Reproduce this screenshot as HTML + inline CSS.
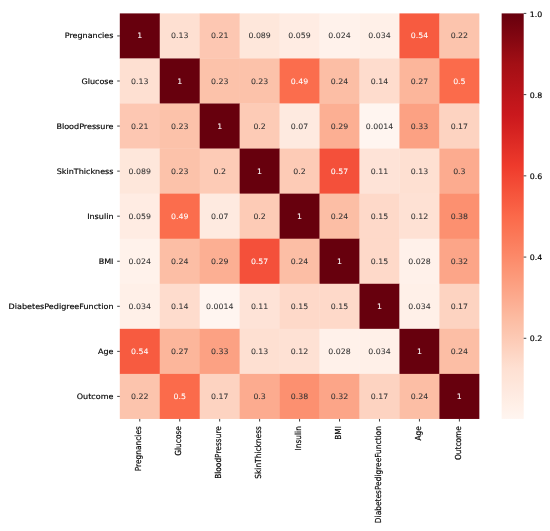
<!DOCTYPE html>
<html lang="en"><head><meta charset="utf-8"><title>Correlation heatmap</title>
<style>html,body{margin:0;padding:0;background:#fff;overflow:hidden}svg{display:block}text{font-family:"DejaVu Sans","Liberation Sans",sans-serif}</style></head><body>
<svg width="550" height="531" viewBox="0 0 550 531">
<defs><linearGradient id="reds" x1="0" y1="1" x2="0" y2="0">
<stop offset="0.00000" stop-color="#fff5f0"/>
<stop offset="0.03125" stop-color="#fff0e8"/>
<stop offset="0.06250" stop-color="#feeae1"/>
<stop offset="0.09375" stop-color="#fee5d9"/>
<stop offset="0.12500" stop-color="#fee0d2"/>
<stop offset="0.15625" stop-color="#fdd7c6"/>
<stop offset="0.18750" stop-color="#fdcdb9"/>
<stop offset="0.21875" stop-color="#fcc4ad"/>
<stop offset="0.25000" stop-color="#fcbba1"/>
<stop offset="0.28125" stop-color="#fcb095"/>
<stop offset="0.31250" stop-color="#fca689"/>
<stop offset="0.34375" stop-color="#fc9c7d"/>
<stop offset="0.37500" stop-color="#fc9272"/>
<stop offset="0.40625" stop-color="#fc8767"/>
<stop offset="0.43750" stop-color="#fb7d5d"/>
<stop offset="0.46875" stop-color="#fb7353"/>
<stop offset="0.50000" stop-color="#fb694a"/>
<stop offset="0.53125" stop-color="#f85d42"/>
<stop offset="0.56250" stop-color="#f5523a"/>
<stop offset="0.59375" stop-color="#f24633"/>
<stop offset="0.62500" stop-color="#ee3a2c"/>
<stop offset="0.65625" stop-color="#e53228"/>
<stop offset="0.68750" stop-color="#dc2924"/>
<stop offset="0.71875" stop-color="#d32020"/>
<stop offset="0.75000" stop-color="#ca181d"/>
<stop offset="0.78125" stop-color="#c1161b"/>
<stop offset="0.81250" stop-color="#b71319"/>
<stop offset="0.84375" stop-color="#ad1117"/>
<stop offset="0.87500" stop-color="#a30f15"/>
<stop offset="0.90625" stop-color="#940b13"/>
<stop offset="0.93750" stop-color="#840711"/>
<stop offset="0.96875" stop-color="#75030f"/>
<stop offset="1.00000" stop-color="#67000d"/>
</linearGradient><filter id="b" x="-5%" y="-5%" width="110%" height="110%"><feGaussianBlur stdDeviation="0.35"/></filter></defs>
<rect width="550" height="531" fill="#fff"/>
<g shape-rendering="geometricPrecision">
<rect x="119.80" y="13.40" width="40.25" height="45.36" fill="#67000d"/>
<rect x="159.75" y="13.40" width="40.25" height="45.36" fill="#fee0d2"/>
<rect x="199.70" y="13.40" width="40.25" height="45.36" fill="#fdc7b2"/>
<rect x="239.65" y="13.40" width="40.25" height="45.36" fill="#fee7db"/>
<rect x="279.60" y="13.40" width="40.25" height="45.36" fill="#ffece3"/>
<rect x="319.55" y="13.40" width="40.25" height="45.36" fill="#fff2eb"/>
<rect x="359.50" y="13.40" width="40.25" height="45.36" fill="#fff0e8"/>
<rect x="399.45" y="13.40" width="40.25" height="45.36" fill="#f75b40"/>
<rect x="439.40" y="13.40" width="39.95" height="45.36" fill="#fcc4ad"/>
<rect x="119.80" y="58.46" width="40.25" height="45.36" fill="#fee0d2"/>
<rect x="159.75" y="58.46" width="40.25" height="45.36" fill="#67000d"/>
<rect x="199.70" y="58.46" width="40.25" height="45.36" fill="#fcc2aa"/>
<rect x="239.65" y="58.46" width="40.25" height="45.36" fill="#fcc2aa"/>
<rect x="279.60" y="58.46" width="40.25" height="45.36" fill="#fb6d4d"/>
<rect x="319.55" y="58.46" width="40.25" height="45.36" fill="#fcbea5"/>
<rect x="359.50" y="58.46" width="40.25" height="45.36" fill="#fedccd"/>
<rect x="399.45" y="58.46" width="40.25" height="45.36" fill="#fcb69b"/>
<rect x="439.40" y="58.46" width="39.95" height="45.36" fill="#fb6b4b"/>
<rect x="119.80" y="103.52" width="40.25" height="45.36" fill="#fdc7b2"/>
<rect x="159.75" y="103.52" width="40.25" height="45.36" fill="#fcc2aa"/>
<rect x="199.70" y="103.52" width="40.25" height="45.36" fill="#67000d"/>
<rect x="239.65" y="103.52" width="40.25" height="45.36" fill="#fdcbb6"/>
<rect x="279.60" y="103.52" width="40.25" height="45.36" fill="#feeae0"/>
<rect x="319.55" y="103.52" width="40.25" height="45.36" fill="#fcaf93"/>
<rect x="359.50" y="103.52" width="40.25" height="45.36" fill="#fff5f0"/>
<rect x="399.45" y="103.52" width="40.25" height="45.36" fill="#fca183"/>
<rect x="439.40" y="103.52" width="39.95" height="45.36" fill="#fdd3c1"/>
<rect x="119.80" y="148.58" width="40.25" height="45.36" fill="#fee7db"/>
<rect x="159.75" y="148.58" width="40.25" height="45.36" fill="#fcc2aa"/>
<rect x="199.70" y="148.58" width="40.25" height="45.36" fill="#fdcbb6"/>
<rect x="239.65" y="148.58" width="40.25" height="45.36" fill="#67000d"/>
<rect x="279.60" y="148.58" width="40.25" height="45.36" fill="#fdcbb6"/>
<rect x="319.55" y="148.58" width="40.25" height="45.36" fill="#f4503a"/>
<rect x="359.50" y="148.58" width="40.25" height="45.36" fill="#fee3d7"/>
<rect x="399.45" y="148.58" width="40.25" height="45.36" fill="#fee0d2"/>
<rect x="439.40" y="148.58" width="39.95" height="45.36" fill="#fcab8f"/>
<rect x="119.80" y="193.64" width="40.25" height="45.36" fill="#ffece3"/>
<rect x="159.75" y="193.64" width="40.25" height="45.36" fill="#fb6d4d"/>
<rect x="199.70" y="193.64" width="40.25" height="45.36" fill="#feeae0"/>
<rect x="239.65" y="193.64" width="40.25" height="45.36" fill="#fdcbb6"/>
<rect x="279.60" y="193.64" width="40.25" height="45.36" fill="#67000d"/>
<rect x="319.55" y="193.64" width="40.25" height="45.36" fill="#fcbea5"/>
<rect x="359.50" y="193.64" width="40.25" height="45.36" fill="#fed9c9"/>
<rect x="399.45" y="193.64" width="40.25" height="45.36" fill="#fee1d4"/>
<rect x="439.40" y="193.64" width="39.95" height="45.36" fill="#fc9070"/>
<rect x="119.80" y="238.71" width="40.25" height="45.36" fill="#fff2eb"/>
<rect x="159.75" y="238.71" width="40.25" height="45.36" fill="#fcbea5"/>
<rect x="199.70" y="238.71" width="40.25" height="45.36" fill="#fcaf93"/>
<rect x="239.65" y="238.71" width="40.25" height="45.36" fill="#f4503a"/>
<rect x="279.60" y="238.71" width="40.25" height="45.36" fill="#fcbea5"/>
<rect x="319.55" y="238.71" width="40.25" height="45.36" fill="#67000d"/>
<rect x="359.50" y="238.71" width="40.25" height="45.36" fill="#fed9c9"/>
<rect x="399.45" y="238.71" width="40.25" height="45.36" fill="#fff1ea"/>
<rect x="439.40" y="238.71" width="39.95" height="45.36" fill="#fca588"/>
<rect x="119.80" y="283.77" width="40.25" height="45.36" fill="#fff0e8"/>
<rect x="159.75" y="283.77" width="40.25" height="45.36" fill="#fedccd"/>
<rect x="199.70" y="283.77" width="40.25" height="45.36" fill="#fff5f0"/>
<rect x="239.65" y="283.77" width="40.25" height="45.36" fill="#fee3d7"/>
<rect x="279.60" y="283.77" width="40.25" height="45.36" fill="#fed9c9"/>
<rect x="319.55" y="283.77" width="40.25" height="45.36" fill="#fed9c9"/>
<rect x="359.50" y="283.77" width="40.25" height="45.36" fill="#67000d"/>
<rect x="399.45" y="283.77" width="40.25" height="45.36" fill="#fff0e8"/>
<rect x="439.40" y="283.77" width="39.95" height="45.36" fill="#fdd3c1"/>
<rect x="119.80" y="328.83" width="40.25" height="45.36" fill="#f75b40"/>
<rect x="159.75" y="328.83" width="40.25" height="45.36" fill="#fcb69b"/>
<rect x="199.70" y="328.83" width="40.25" height="45.36" fill="#fca183"/>
<rect x="239.65" y="328.83" width="40.25" height="45.36" fill="#fee0d2"/>
<rect x="279.60" y="328.83" width="40.25" height="45.36" fill="#fee1d4"/>
<rect x="319.55" y="328.83" width="40.25" height="45.36" fill="#fff1ea"/>
<rect x="359.50" y="328.83" width="40.25" height="45.36" fill="#fff0e8"/>
<rect x="399.45" y="328.83" width="40.25" height="45.36" fill="#67000d"/>
<rect x="439.40" y="328.83" width="39.95" height="45.36" fill="#fcbea5"/>
<rect x="119.80" y="373.89" width="40.25" height="45.06" fill="#fcc4ad"/>
<rect x="159.75" y="373.89" width="40.25" height="45.06" fill="#fb6b4b"/>
<rect x="199.70" y="373.89" width="40.25" height="45.06" fill="#fdd3c1"/>
<rect x="239.65" y="373.89" width="40.25" height="45.06" fill="#fcab8f"/>
<rect x="279.60" y="373.89" width="40.25" height="45.06" fill="#fc9070"/>
<rect x="319.55" y="373.89" width="40.25" height="45.06" fill="#fca588"/>
<rect x="359.50" y="373.89" width="40.25" height="45.06" fill="#fdd3c1"/>
<rect x="399.45" y="373.89" width="40.25" height="45.06" fill="#fcbea5"/>
<rect x="439.40" y="373.89" width="39.95" height="45.06" fill="#67000d"/>
</g>
<rect x="501.65" y="13.40" width="22.05" height="405.55" fill="url(#reds)"/>
<path d="M117.20 35.93H119.80 M117.20 80.99H119.80 M117.20 126.05H119.80 M117.20 171.11H119.80 M117.20 216.18H119.80 M117.20 261.24H119.80 M117.20 306.30H119.80 M117.20 351.36H119.80 M117.20 396.42H119.80 M139.78 418.95V421.55 M179.72 418.95V421.55 M219.68 418.95V421.55 M259.62 418.95V421.55 M299.57 418.95V421.55 M339.53 418.95V421.55 M379.48 418.95V421.55 M419.43 418.95V421.55 M459.38 418.95V421.55 M523.70 338.29h2.60 M523.70 257.07h2.60 M523.70 175.85h2.60 M523.70 94.62h2.60 M523.70 13.40h2.60" stroke="#000" stroke-width="0.75" fill="none"/>
<g transform="scale(1.066,1)" font-size="7.55px" fill="#000" stroke="#000" stroke-width="0.16" filter="url(#b)">
<text x="106.47" y="38.50" text-anchor="end">Pregnancies</text>
<text x="106.47" y="83.56" text-anchor="end">Glucose</text>
<text x="106.47" y="128.62" text-anchor="end">BloodPressure</text>
<text x="106.47" y="173.68" text-anchor="end">SkinThickness</text>
<text x="106.47" y="218.74" text-anchor="end">Insulin</text>
<text x="106.47" y="263.80" text-anchor="end">BMI</text>
<text x="106.47" y="308.86" text-anchor="end">DiabetesPedigreeFunction</text>
<text x="106.47" y="353.93" text-anchor="end">Age</text>
<text x="106.47" y="398.99" text-anchor="end">Outcome</text>
</g>
<g transform="scale(1.11,1)" font-size="7.45px" fill="#000" stroke="#000" stroke-width="0.16" filter="url(#b)">
<text transform="translate(127.34,426.10) rotate(-90)" text-anchor="end">Pregnancies</text>
<text transform="translate(163.33,426.10) rotate(-90)" text-anchor="end">Glucose</text>
<text transform="translate(199.32,426.10) rotate(-90)" text-anchor="end">BloodPressure</text>
<text transform="translate(235.31,426.10) rotate(-90)" text-anchor="end">SkinThickness</text>
<text transform="translate(271.30,426.10) rotate(-90)" text-anchor="end">Insulin</text>
<text transform="translate(307.29,426.10) rotate(-90)" text-anchor="end">BMI</text>
<text transform="translate(343.28,426.10) rotate(-90)" text-anchor="end">DiabetesPedigreeFunction</text>
<text transform="translate(379.28,426.10) rotate(-90)" text-anchor="end">Age</text>
<text transform="translate(415.27,426.10) rotate(-90)" text-anchor="end">Outcome</text>
</g>
<g transform="scale(1.045,1)" font-size="7.55px" fill="#000" stroke="#000" stroke-width="0.16" filter="url(#b)">
<text x="506.99" y="341.47">0.2</text>
<text x="506.99" y="260.24">0.4</text>
<text x="506.99" y="179.02">0.6</text>
<text x="506.99" y="97.79">0.8</text>
<text x="506.99" y="16.57">1.0</text>
</g>
<g transform="scale(1.04,1)" font-size="7.55px" text-anchor="middle" stroke-width="0.04" filter="url(#b)">
<text x="134.40" y="38.46" fill="#ffffff" stroke="#ffffff">1</text>
<text x="172.81" y="38.46" fill="#303030" stroke="#303030">0.13</text>
<text x="211.23" y="38.46" fill="#303030" stroke="#303030">0.21</text>
<text x="249.64" y="38.46" fill="#303030" stroke="#303030">0.089</text>
<text x="288.05" y="38.46" fill="#303030" stroke="#303030">0.059</text>
<text x="326.47" y="38.46" fill="#303030" stroke="#303030">0.024</text>
<text x="364.88" y="38.46" fill="#303030" stroke="#303030">0.034</text>
<text x="403.29" y="38.46" fill="#ffffff" stroke="#ffffff">0.54</text>
<text x="441.71" y="38.46" fill="#303030" stroke="#303030">0.22</text>
<text x="134.40" y="83.52" fill="#303030" stroke="#303030">0.13</text>
<text x="172.81" y="83.52" fill="#ffffff" stroke="#ffffff">1</text>
<text x="211.23" y="83.52" fill="#303030" stroke="#303030">0.23</text>
<text x="249.64" y="83.52" fill="#303030" stroke="#303030">0.23</text>
<text x="288.05" y="83.52" fill="#ffffff" stroke="#ffffff">0.49</text>
<text x="326.47" y="83.52" fill="#303030" stroke="#303030">0.24</text>
<text x="364.88" y="83.52" fill="#303030" stroke="#303030">0.14</text>
<text x="403.29" y="83.52" fill="#303030" stroke="#303030">0.27</text>
<text x="441.71" y="83.52" fill="#ffffff" stroke="#ffffff">0.5</text>
<text x="134.40" y="128.58" fill="#303030" stroke="#303030">0.21</text>
<text x="172.81" y="128.58" fill="#303030" stroke="#303030">0.23</text>
<text x="211.23" y="128.58" fill="#ffffff" stroke="#ffffff">1</text>
<text x="249.64" y="128.58" fill="#303030" stroke="#303030">0.2</text>
<text x="288.05" y="128.58" fill="#303030" stroke="#303030">0.07</text>
<text x="326.47" y="128.58" fill="#303030" stroke="#303030">0.29</text>
<text x="364.88" y="128.58" fill="#303030" stroke="#303030">0.0014</text>
<text x="403.29" y="128.58" fill="#303030" stroke="#303030">0.33</text>
<text x="441.71" y="128.58" fill="#303030" stroke="#303030">0.17</text>
<text x="134.40" y="173.64" fill="#303030" stroke="#303030">0.089</text>
<text x="172.81" y="173.64" fill="#303030" stroke="#303030">0.23</text>
<text x="211.23" y="173.64" fill="#303030" stroke="#303030">0.2</text>
<text x="249.64" y="173.64" fill="#ffffff" stroke="#ffffff">1</text>
<text x="288.05" y="173.64" fill="#303030" stroke="#303030">0.2</text>
<text x="326.47" y="173.64" fill="#ffffff" stroke="#ffffff">0.57</text>
<text x="364.88" y="173.64" fill="#303030" stroke="#303030">0.11</text>
<text x="403.29" y="173.64" fill="#303030" stroke="#303030">0.13</text>
<text x="441.71" y="173.64" fill="#303030" stroke="#303030">0.3</text>
<text x="134.40" y="218.70" fill="#303030" stroke="#303030">0.059</text>
<text x="172.81" y="218.70" fill="#ffffff" stroke="#ffffff">0.49</text>
<text x="211.23" y="218.70" fill="#303030" stroke="#303030">0.07</text>
<text x="249.64" y="218.70" fill="#303030" stroke="#303030">0.2</text>
<text x="288.05" y="218.70" fill="#ffffff" stroke="#ffffff">1</text>
<text x="326.47" y="218.70" fill="#303030" stroke="#303030">0.24</text>
<text x="364.88" y="218.70" fill="#303030" stroke="#303030">0.15</text>
<text x="403.29" y="218.70" fill="#303030" stroke="#303030">0.12</text>
<text x="441.71" y="218.70" fill="#303030" stroke="#303030">0.38</text>
<text x="134.40" y="263.77" fill="#303030" stroke="#303030">0.024</text>
<text x="172.81" y="263.77" fill="#303030" stroke="#303030">0.24</text>
<text x="211.23" y="263.77" fill="#303030" stroke="#303030">0.29</text>
<text x="249.64" y="263.77" fill="#ffffff" stroke="#ffffff">0.57</text>
<text x="288.05" y="263.77" fill="#303030" stroke="#303030">0.24</text>
<text x="326.47" y="263.77" fill="#ffffff" stroke="#ffffff">1</text>
<text x="364.88" y="263.77" fill="#303030" stroke="#303030">0.15</text>
<text x="403.29" y="263.77" fill="#303030" stroke="#303030">0.028</text>
<text x="441.71" y="263.77" fill="#303030" stroke="#303030">0.32</text>
<text x="134.40" y="308.83" fill="#303030" stroke="#303030">0.034</text>
<text x="172.81" y="308.83" fill="#303030" stroke="#303030">0.14</text>
<text x="211.23" y="308.83" fill="#303030" stroke="#303030">0.0014</text>
<text x="249.64" y="308.83" fill="#303030" stroke="#303030">0.11</text>
<text x="288.05" y="308.83" fill="#303030" stroke="#303030">0.15</text>
<text x="326.47" y="308.83" fill="#303030" stroke="#303030">0.15</text>
<text x="364.88" y="308.83" fill="#ffffff" stroke="#ffffff">1</text>
<text x="403.29" y="308.83" fill="#303030" stroke="#303030">0.034</text>
<text x="441.71" y="308.83" fill="#303030" stroke="#303030">0.17</text>
<text x="134.40" y="353.89" fill="#ffffff" stroke="#ffffff">0.54</text>
<text x="172.81" y="353.89" fill="#303030" stroke="#303030">0.27</text>
<text x="211.23" y="353.89" fill="#303030" stroke="#303030">0.33</text>
<text x="249.64" y="353.89" fill="#303030" stroke="#303030">0.13</text>
<text x="288.05" y="353.89" fill="#303030" stroke="#303030">0.12</text>
<text x="326.47" y="353.89" fill="#303030" stroke="#303030">0.028</text>
<text x="364.88" y="353.89" fill="#303030" stroke="#303030">0.034</text>
<text x="403.29" y="353.89" fill="#ffffff" stroke="#ffffff">1</text>
<text x="441.71" y="353.89" fill="#303030" stroke="#303030">0.24</text>
<text x="134.40" y="398.95" fill="#303030" stroke="#303030">0.22</text>
<text x="172.81" y="398.95" fill="#ffffff" stroke="#ffffff">0.5</text>
<text x="211.23" y="398.95" fill="#303030" stroke="#303030">0.17</text>
<text x="249.64" y="398.95" fill="#303030" stroke="#303030">0.3</text>
<text x="288.05" y="398.95" fill="#303030" stroke="#303030">0.38</text>
<text x="326.47" y="398.95" fill="#303030" stroke="#303030">0.32</text>
<text x="364.88" y="398.95" fill="#303030" stroke="#303030">0.17</text>
<text x="403.29" y="398.95" fill="#303030" stroke="#303030">0.24</text>
<text x="441.71" y="398.95" fill="#ffffff" stroke="#ffffff">1</text>
</g>
</svg></body></html>
